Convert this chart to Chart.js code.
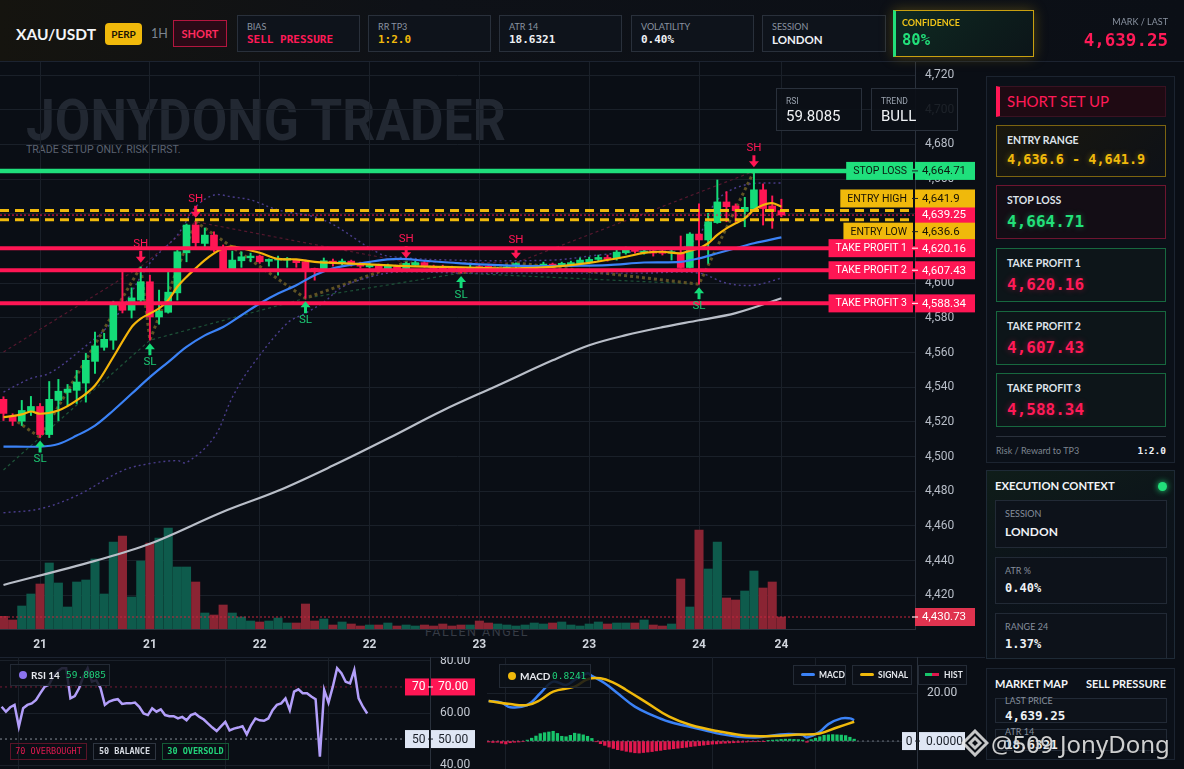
<!DOCTYPE html>
<html>
<head>
<meta charset="utf-8">
<title>XAU/USDT short setup</title>
<script src="https://cdn.jsdelivr.net/npm/chart.js@4.4.1/dist/chart.umd.min.js"></script>
<style>
  * { box-sizing: border-box; }
  body { margin:0; width:1184px; height:769px; overflow:hidden; background:#0a0e15; position:relative;
         font-family:'Lato','Noto Sans',sans-serif; color:#e4e8ee; }
  .a { position:absolute; }
  .mono { font-family:'DejaVu Sans Mono',monospace; font-weight:bold; }
  .narrow { font-family:'Liberation Sans Narrow','Roboto',sans-serif; }
  #hdr { left:0; top:0; width:1184px; height:62px; z-index:5;
         background:linear-gradient(90deg,#15140f 0%,#0e1117 35%,#0b0f16 100%); border-bottom:1px solid #1c2330; }
  .ibox { position:absolute; top:15px; height:37px; width:123px; border:1px solid #29303b; background:#0e131b; }
  .ibox .l { position:absolute; left:9px; top:5px; font-size:9px; color:#8a93a1; }
  .ibox .v { position:absolute; left:9px; top:17px; font-size:11px; }
  .rp { position:absolute; border:1px solid #1c2430; background:#0b1018; }
  .card { position:absolute; left:996px; width:170px; height:54px; }
  .card .l { position:absolute; left:10px; top:8px; font-size:10.5px; font-weight:bold; color:#dfe3ea; }
  .card .v { position:absolute; left:10px; top:26px; font-size:16px; }
  .ctx { position:absolute; left:995px; width:172px; border:1px solid #222a36; background:#0d121a; }
  .ctx .l { position:absolute; left:9px; top:7px; font-size:9px; color:#858e9c; }
  .ctx .v { position:absolute; left:9px; top:23px; font-size:12px; font-weight:bold; color:#eef1f5; }
  .badge { position:absolute; top:743px; height:17px; font-size:8.5px; line-height:15px; text-align:center; }
  .lg { position:absolute; top:665px; height:20px; border:1px solid #242b36; background:#0c1018; font-size:8.5px; font-weight:bold; color:#e6e9ee; line-height:18px; }
</style>
</head>
<body>

<!-- header -->
<div id="hdr" class="a">
  <div class="a" style="left:16px;top:25px;font-size:15.5px;font-weight:bold;color:#f2f4f7">XAU/USDT</div>
  <div class="a" style="left:105px;top:23px;width:37px;height:22px;border-radius:4px;background:#f0b90b;color:#1a1405;font-size:10px;font-weight:bold;text-align:center;line-height:22px">PERP</div>
  <div class="a" style="left:151px;top:26px;font-size:12.5px;color:#7d8590">1H</div>
  <div class="a" style="left:173px;top:20px;width:54px;height:27px;border:1px solid #b3163f;background:#2a0a16;color:#ff2a5f;font-size:11px;font-weight:bold;text-align:center;line-height:25px">SHORT</div>
  <div class="ibox" style="left:237px"><div class="l">BIAS</div><div class="v mono" style="color:#ff1a57">SELL PRESSURE</div></div>
  <div class="ibox" style="left:368px"><div class="l">RR TP3</div><div class="v mono" style="color:#f0b90b">1:2.0</div></div>
  <div class="ibox" style="left:499px"><div class="l">ATR 14</div><div class="v mono" style="color:#eef1f5">18.6321</div></div>
  <div class="ibox" style="left:631px"><div class="l">VOLATILITY</div><div class="v mono" style="color:#eef1f5">0.40%</div></div>
  <div class="ibox" style="left:762px;width:124px"><div class="l">SESSION</div><div class="v" style="font-weight:bold;color:#eef1f5;font-size:11.5px">LONDON</div></div>
  <div class="a" style="left:893px;top:10px;width:141px;height:47px;border:1px solid #c9a010;border-left:3px solid #22e07a;background:linear-gradient(135deg,#0f2a22 0%,#0d1d1c 60%,#0c1519 100%);box-shadow:0 0 12px rgba(201,160,16,0.35)">
    <div class="a" style="left:6px;top:6px;font-size:9px;font-weight:bold;color:#f0c419">CONFIDENCE</div>
    <div class="a mono" style="left:6px;top:20px;font-size:15.5px;color:#22e07a">80%</div>
  </div>
  <div class="a" style="right:16px;top:16px;font-size:9px;color:#8a93a1;text-align:right">MARK / LAST</div>
  <div class="a mono" style="right:16px;top:30px;font-size:17.5px;color:#ff1a57;text-align:right">4,639.25</div>
</div>

<!-- main chart background watermarks -->
<div class="a narrow" style="left:26px;top:86px;font-size:58px;font-weight:bold;color:#222832;transform:scaleX(0.89);transform-origin:0 0;white-space:nowrap">JONYDONG TRADER</div>
<div class="a narrow" style="left:26px;top:142px;font-size:11.5px;color:#5b6270;transform:scaleX(0.92);transform-origin:0 0;white-space:nowrap">TRADE SETUP ONLY. RISK FIRST.</div>
<div class="a narrow" style="left:425px;top:624px;font-size:12.5px;color:#363b45;letter-spacing:1.5px">FALLEN ANGEL</div>

<div class="a" style="left:0;top:62px;width:980px;height:595px"><canvas id="cMain"></canvas></div>

<!-- RSI / TREND boxes on chart -->
<div class="a" style="left:776px;top:88px;width:86px;height:43px;border:1px solid #29303b;background:rgba(11,15,22,0.9)">
  <div class="a narrow" style="left:9px;top:7px;font-size:8.5px;color:#9aa2ae">RSI</div>
  <div class="a narrow" style="left:9px;top:18px;font-size:15px;color:#f0f2f5">59.8085</div>
</div>
<div class="a" style="left:871px;top:88px;width:87px;height:43px;border:1px solid #29303b;background:rgba(11,15,22,0.9)">
  <div class="a narrow" style="left:9px;top:7px;font-size:8.5px;color:#9aa2ae">TREND</div>
  <div class="a narrow" style="left:9px;top:18px;font-size:15px;color:#f0f2f5">BULL</div>
</div>

<!-- bottom panels -->
<div class="a" style="left:0;top:657px;width:985px;height:1px;background:#1c2330"></div>
<div class="a" style="left:0;top:657px;width:487px;height:112px"><canvas id="cRsi"></canvas></div>
<div class="a" style="left:487px;top:657px;width:498px;height:112px"><canvas id="cMacd"></canvas></div>

<div class="a" style="left:10px;top:664px;width:100px;height:22px;border:1px solid #232a35;background:rgba(12,16,24,0.85)">
  <div class="a" style="left:8px;top:6px;width:8px;height:8px;border-radius:50%;background:#8b73f0"></div>
  <div class="a" style="left:20px;top:4px;font-size:10px;font-weight:bold;color:#e6e9ee">RSI 14</div>
  <div class="a mono" style="left:55px;top:4px;font-size:9.5px;color:#1fd27a;font-weight:normal">59.8085</div>
</div>
<div class="badge mono" style="left:10px;width:77px;border:1px solid #5a1428;color:#e0194f;font-weight:normal">70 OVERBOUGHT</div>
<div class="badge mono" style="left:93px;width:63px;border:1px solid #2e3540;color:#d6dae2">50 BALANCE</div>
<div class="badge mono" style="left:162px;width:67px;border:1px solid #145a36;color:#22d37a">30 OVERSOLD</div>

<div class="a" style="left:499px;top:664px;width:92px;height:24px;border:1px solid #232a35;background:rgba(12,16,24,0.85)">
  <div class="a" style="left:8px;top:7px;width:8px;height:8px;border-radius:50%;background:#f0b90b"></div>
  <div class="a" style="left:20px;top:5px;font-size:10px;font-weight:bold;color:#e6e9ee">MACD</div>
  <div class="a mono" style="left:52px;top:5px;font-size:9.5px;color:#1fd27a;font-weight:normal">0.8241</div>
</div>
<div class="lg" style="left:793px;width:53px"><span class="a" style="left:7px;top:7px;width:14px;height:3px;border-radius:2px;background:#3b82f6"></span><span class="a" style="left:25px;top:0">MACD</span></div>
<div class="lg" style="left:852px;width:60px"><span class="a" style="left:7px;top:7px;width:14px;height:3px;border-radius:2px;background:#f0b90b"></span><span class="a" style="left:25px;top:0">SIGNAL</span></div>
<div class="lg" style="left:918px;width:49px"><span class="a" style="left:6px;top:7px;width:7px;height:3px;background:#17c46a"></span><span class="a" style="left:13px;top:7px;width:7px;height:3px;background:#e0184e"></span><span class="a" style="left:25px;top:0">HIST</span></div>

<!-- right panel: short set up -->
<div class="rp" style="left:986px;top:76px;width:189px;height:387px"></div>
<div class="a" style="left:996px;top:86px;width:170px;height:31px;background:#1f0a13;border:1px solid #3a1222;border-left:4px solid #ff1654">
  <div class="a" style="left:7px;top:5px;font-size:15px;color:#ff1a57">SHORT SET UP</div>
</div>
<div class="card" style="top:125px;height:52px;border:1px solid #7c6410;background:linear-gradient(135deg,#1a180d,#0e1117)">
  <div class="l">ENTRY RANGE</div><div class="v mono" style="font-size:13.5px;top:25px;color:#f0b90b;text-shadow:0 0 6px rgba(240,185,11,0.4)">4,636.6 - 4,641.9</div>
</div>
<div class="card" style="top:185px;border:1px solid #6e1530;background:#130d15">
  <div class="l">STOP LOSS</div><div class="v mono" style="color:#22e07a;text-shadow:0 0 6px rgba(34,224,122,0.4)">4,664.71</div>
</div>
<div class="card" style="top:248px;border:1px solid #17683f;background:#0d1519">
  <div class="l">TAKE PROFIT 1</div><div class="v mono" style="color:#ff1a57;text-shadow:0 0 6px rgba(255,26,87,0.4)">4,620.16</div>
</div>
<div class="card" style="top:311px;border:1px solid #17683f;background:#0d1519">
  <div class="l">TAKE PROFIT 2</div><div class="v mono" style="color:#ff1a57;text-shadow:0 0 6px rgba(255,26,87,0.4)">4,607.43</div>
</div>
<div class="card" style="top:373px;border:1px solid #17683f;background:#0d1519">
  <div class="l">TAKE PROFIT 3</div><div class="v mono" style="color:#ff1a57;text-shadow:0 0 6px rgba(255,26,87,0.4)">4,588.34</div>
</div>
<div class="a" style="left:996px;top:436px;width:170px;height:1px;background:#2a313c"></div>
<div class="a" style="left:996px;top:445px;font-size:9px;color:#7d8590">Risk / Reward to TP3</div>
<div class="a mono" style="left:1126px;top:445px;width:40px;text-align:right;font-size:9.5px;color:#eef1f5">1:2.0</div>

<!-- execution context -->
<div class="rp" style="left:986px;top:470px;width:189px;height:189px;overflow:hidden;background:linear-gradient(160deg,#0f1d19 0%,#0c131a 45%,#0b1018 100%);border-color:#1e2a36">
</div>
<div class="a" style="left:995px;top:479px;font-size:11.3px;font-weight:bold;color:#f2f4f7">EXECUTION CONTEXT</div>
<div class="a" style="left:1158px;top:482px;width:9px;height:9px;border-radius:50%;background:#22e07a;box-shadow:0 0 6px #22e07a"></div>
<div class="ctx" style="top:500px;height:48px"><div class="l">SESSION</div><div class="v">LONDON</div></div>
<div class="ctx" style="top:557px;height:47px"><div class="l">ATR %</div><div class="v mono">0.40%</div></div>
<div class="ctx" style="top:613px;height:45px;border-bottom:none"><div class="l">RANGE 24</div><div class="v mono">1.37%</div></div>

<!-- market map -->
<div class="rp" style="left:986px;top:668px;width:189px;height:92px"></div>
<div class="a" style="left:995px;top:677px;font-size:11px;font-weight:bold;color:#f2f4f7">MARKET MAP</div>
<div class="a" style="left:1066px;top:677px;width:100px;text-align:right;font-size:11px;font-weight:bold;color:#f2f4f7">SELL PRESSURE</div>
<div class="ctx" style="top:698px;height:25px"><div class="l" style="top:-4px">LAST PRICE</div><div class="v mono" style="top:9px;font-size:12.5px">4,639.25</div></div>
<div class="ctx" style="top:729px;height:22px"><div class="l" style="top:-4px">ATR 14</div><div class="v mono" style="top:7px;font-size:12.5px">18.6321</div></div>

<!-- platform watermark -->
<svg class="a" style="left:961px;top:729px" width="28" height="28" viewBox="0 0 28 28">
  <g fill="none" stroke="#e8e8e8" stroke-width="3" opacity="0.85"><path d="M14 2 L26 14 L14 26 L2 14 Z"/><path d="M14 9 L19 14 L14 19 L9 14 Z"/></g>
</svg>
<div class="a" style="left:991px;top:727px;font-size:24px;color:rgba(235,235,235,0.88);font-family:'Noto Sans',sans-serif;text-shadow:0 0 2px rgba(0,0,0,0.6);white-space:nowrap">@509 JonyDong</div>

<script>
// ---------- data (1H candles, XAU/USDT) ----------
const candleOpen = [4533.0,4523.3,4520.4,4526.2,4528.9,4512.7,4532.4,4537.0,4538.2,4542.4,
  4554.9,4563.0,4567.1,4588.4,4584.4,4590.2,4600.8,4580.5,4583.2,4594.4,
  4617.5,4633.5,4622.9,4627.7,4620.1,4607.9,4612.9,4614.6,4615.6,4612.6,
  4613.3,4613.3,4613.3,4612.3,4608.5,4607.9,4612.7,4611.4,4612.7,4610.8,
  4609.4,4610.0,4607.9,4609.4,4608.4,4610.4,4611.8,4609.8,4609.4,4608.8,
  4608.8,4607.5,4609.2,4609.8,4607.1,4608.2,4610.4,4607.5,4607.5,4609.4,
  4611.0,4610.4,4610.4,4611.4,4612.3,4613.7,4614.8,4614.2,4617.5,4619.5,
  4617.6,4618.5,4618.1,4617.3,4617.1,4609.0,4628.3,4624.9,4634.9,4646.8,
  4644.5,4641.3,4643.0,4653.8,4644.5,4641.8];
const candleHigh = [4534.5,4524.7,4532.4,4534.7,4530.6,4543.3,4544.5,4541.6,4549.7,4559.5,
  4571.8,4571.1,4589.6,4606.5,4597.3,4609.4,4604.6,4596.0,4606.9,4619.1,
  4634.1,4635.4,4631.8,4629.6,4622.0,4618.5,4618.1,4617.3,4616.2,4614.0,
  4615.6,4614.8,4613.7,4613.3,4608.7,4614.5,4613.9,4613.9,4613.3,4612.1,
  4612.1,4611.0,4611.0,4610.4,4612.1,4612.7,4612.7,4610.4,4610.4,4609.8,
  4609.2,4610.4,4610.4,4610.4,4609.2,4610.4,4611.7,4609.8,4610.4,4612.1,
  4611.6,4612.1,4612.7,4614.5,4615.0,4616.2,4616.2,4619.1,4620.8,4620.2,
  4619.7,4619.7,4619.1,4619.1,4627.2,4629.1,4645.7,4640.3,4659.5,4652.8,
  4645.7,4649.5,4664.5,4657.2,4650.3,4648.4];
const candleLow = [4520.8,4517.9,4517.9,4523.7,4511.0,4511.0,4520.8,4529.5,4530.6,4531.4,
  4548.0,4561.3,4561.8,4582.8,4579.9,4589.2,4567.1,4576.3,4582.7,4590.2,
  4612.3,4621.0,4620.2,4618.1,4607.5,4607.0,4609.1,4612.3,4611.4,4609.8,
  4604.6,4609.1,4609.1,4591.3,4601.7,4606.9,4609.8,4610.4,4609.8,4608.7,
  4608.7,4606.9,4606.9,4606.4,4607.5,4609.8,4609.2,4608.1,4607.5,4606.9,
  4605.8,4606.9,4607.5,4607.5,4606.4,4607.5,4608.5,4606.9,4606.9,4608.7,
  4609.2,4609.8,4609.8,4611.0,4611.6,4612.7,4612.7,4613.3,4616.7,4617.3,
  4616.7,4615.6,4616.2,4613.3,4608.6,4608.7,4599.4,4611.4,4634.5,4635.4,
  4635.4,4632.5,4642.6,4633.5,4631.6,4638.3];
const candleClose = [4524.9,4520.4,4526.6,4528.9,4512.7,4533.0,4537.7,4538.9,4543.0,4555.5,
  4563.8,4567.6,4588.6,4584.4,4591.5,4600.8,4580.5,4583.8,4594.8,4618.1,
  4633.5,4623.3,4627.7,4619.1,4607.9,4613.3,4615.2,4615.6,4612.3,4613.7,
  4613.7,4614.3,4611.8,4607.5,4607.1,4612.9,4611.4,4612.7,4610.8,4609.8,
  4610.8,4607.5,4610.0,4607.5,4611.4,4611.8,4609.8,4608.5,4608.1,4607.5,
  4607.5,4609.0,4608.7,4608.5,4608.5,4609.4,4611.0,4609.4,4609.1,4611.0,
  4610.0,4611.4,4611.8,4613.3,4613.7,4614.8,4613.7,4617.9,4619.5,4618.3,
  4618.5,4617.3,4617.2,4617.9,4609.0,4628.3,4624.9,4635.4,4646.8,4644.1,
  4641.8,4643.7,4653.8,4643.0,4641.3,4639.25];
const volume = [1270,900,2300,3500,4500,6600,4600,2200,4700,4900,
  7000,3500,8700,9300,3200,6800,8600,9100,10100,6200,
  6200,4700,1600,1400,2400,1600,1200,800,700,800,
  1100,600,600,2500,800,1000,400,700,500,300,
  400,400,600,300,400,300,400,300,500,300,
  400,400,800,600,500,400,300,400,600,500,
  600,700,400,300,500,700,500,600,600,600,
  900,400,300,500,5000,2200,9900,6000,8700,3100,
  2900,3800,5800,4100,4700,1200];

// x tick labels (day of month)
const xTickIdx = [4,16,28,40,52,64,76,85];
const xTickText = ['21','21','22','22','23','23','24','24'];
const priceTicks = [4420,4440,4460,4480,4500,4520,4540,4560,4580,4600,4620,4640,4660,4680,4700,4720];

// moving averages / bands (index -> price)
const emaFastIdx = [0,2,3,4,6,8,10,12,14,15,16,17,18,19,20,21,22,23,24,25,26,28,30,32,34,36,40,44,48,52,56,60,64,68,70,72,74,75,76,77,78,79,80,81,82,83,84,85];
const emaFastVal = [4522.7,4524.3,4526,4524.7,4526.6,4532.4,4541,4557.4,4574.7,4579.6,4582.5,4585.4,4590.2,4597.9,4603.6,4608.5,4613.3,4617.2,4620.1,4621,4620.1,4617.5,4614,4613.7,4612.3,4611.7,4610.8,4609.8,4609.4,4608.8,4608.5,4609.4,4611.7,4615.2,4617.5,4618.1,4617.2,4618.7,4620.1,4623,4627.8,4631.6,4634.5,4637.4,4642.2,4645.1,4646.1,4644.1];
const emaMidIdx = [0,4,6,8,10,12,14,16,18,20,22,24,26,28,30,32,34,36,39,42,44,46,50,54,58,62,66,70,74,76,78,80,82,85];
const emaMidVal = [4505.8,4505.8,4507.3,4512.1,4517.9,4526.6,4536.2,4545.8,4554.5,4563.2,4569.9,4574.7,4581.5,4588.3,4594,4598.8,4604.6,4608.5,4611.4,4613.7,4613.9,4612.9,4611.4,4610.4,4609.8,4610,4610.4,4611.9,4612.3,4614.3,4617.2,4620.1,4623,4626.4];
const smaLongIdx = [0,10,16,24,30,36,42,48,54,60,64,68,72,76,80,85];
const smaLongVal = [4426,4439.9,4449.7,4468.2,4480.3,4494.8,4510.4,4526.6,4541,4555.5,4564.2,4570,4574.6,4578.6,4582.7,4591.3];
const bandUpIdx = [0,3,5,8,12,16,19,21,23,25,27,30,35,41,43,49,60,65,71,74,76,78,81,85];
const bandUpVal = [4537.2,4545.1,4548,4559.5,4578.6,4611.6,4627.7,4643.9,4650.8,4649.7,4648,4642.2,4636.4,4617.3,4615,4613.3,4613.3,4616.2,4619.1,4620.2,4627.7,4648,4656.6,4657.8];
const bandLowIdx = [0,4,8,13,16,19,20,23,25,27,31,33,35,37,40,43,50,60,70,76,79,82,85];
const bandLowVal = [4467.6,4469.9,4477.5,4491.9,4496,4497.7,4496.5,4511,4534.1,4551.4,4576.9,4582.7,4589,4597.7,4603.5,4606.4,4605.8,4605.8,4605.8,4605.8,4600,4598.8,4602.9];
const zigzagIdx = [1,4,15,16,21,33,44,50,56,76,82];
const zigzagVal = [4522,4511,4609.4,4567.1,4635.4,4591.3,4612.1,4605.8,4611.7,4599.4,4664.5];
const supportIdx = [0,4,16,33,50,76];
const supportVal = [4492.3,4511,4567.1,4591.3,4605.8,4599.4];
const resistIdx = [0,15,21,44,56,82];
const resistVal = [4560.3,4609.4,4635.4,4612.1,4611.7,4664.5];

// swing markers
const swingHighIdx = [15,21,44,56,82];
const swingLowIdx = [4,16,33,50,76];

// trade levels
const levelNames = ['STOP LOSS','ENTRY HIGH','ENTRY LOW','TAKE PROFIT 1','TAKE PROFIT 2','TAKE PROFIT 3'];
const levelPrices = [4664.71,4641.9,4636.6,4620.16,4607.43,4588.34];
const levelText = ['4,664.71','4,641.9','4,636.6','4,620.16','4,607.43','4,588.34'];
const lastPrice = 4639.25;
const lastPriceText = '4,639.25';
const volTagText = '4,430.73';

// RSI 14
const rsiVal = [62.4,60.5,62.2,63.1,54.7,61.8,63.1,63.7,65.0,67.6,
  70.1,70.8,74.0,75.9,77.2,77.2,65.6,66.5,69.5,74.0,
  77.2,72.0,72.6,69.5,63.1,64.4,65.0,65.3,63.5,63.7,
  63.7,64.0,62.4,59.8,59.2,61.8,60.5,61.4,59.2,58.8,
  58.8,57.9,58.5,57.2,59.2,59.8,58.5,57.5,55.9,54.4,
  53.1,54.9,56.6,53.3,54.0,54.4,54.9,51.8,55.3,57.9,
  57.2,57.0,57.9,61.1,63.1,63.7,65.6,61.1,68.2,69.1,
  67.6,67.6,66.3,65.3,43.2,68.9,64.0,70.1,77.2,75.3,
  72.0,71.4,76.5,65.6,62.4,59.8];
const rsiTicks = [40,60,80];
const rsiGridIdx = [4,52,76];

// MACD
const macdIdx = [0,3,5,9,12,15,18,20,23,24,27,30,34,38,42,46,50,54,58,62,65,69,73,74,77,79,82,84,85];
const macdVal = [16.8,16.1,14.2,15.1,20.0,24.9,23.5,25.6,28.4,27.3,24.2,20.0,14.4,10.9,8.1,6.3,4.6,2.9,1.8,1.5,2.1,2.9,2.5,1.5,3.9,7.1,9.5,9.5,8.8];
const signalIdx = [0,5,9,12,15,20,23,26,29,32,37,42,47,54,60,66,72,77,81,85];
const signalVal = [16.8,15.5,15.1,17.2,20.7,22.8,25.9,26.3,24.5,21.4,15.8,10.2,6.7,3.9,2.2,2.1,2.7,3.2,5.7,8.1];
const histVal = [-0.4,-0.6,-0.5,-0.9,-1.2,-0.7,-0.5,-0.4,-0.2,0.4,
  1.2,2.1,3.1,3.5,3.8,4.1,3.2,2.0,1.8,2.4,
  3.3,3.0,2.6,2.0,1.1,-0.3,-1.1,-1.8,-2.5,-3.1,
  -3.6,-3.9,-4.3,-4.6,-4.9,-5.0,-4.8,-4.6,-4.4,-4.1,
  -3.9,-3.6,-3.4,-3.2,-3.0,-2.8,-2.6,-2.3,-2.1,-1.9,
  -1.7,-1.5,-1.3,-1.2,-1.0,-0.9,-0.8,-0.7,-0.6,-0.5,
  -0.4,-0.3,-0.3,-0.2,-0.1,0.3,0.4,0.5,0.7,0.8,
  0.8,0.7,0.6,0.4,-0.5,0.6,1.2,1.8,2.4,2.6,
  2.7,2.6,2.5,2.3,1.6,0.8];
const macdTicks = [0,20];
const macdGridIdx = [4,28,52,76];

// ---------- styling ----------
const NARROW = "'Liberation Sans Narrow','Roboto',sans-serif";
const UP = '#14dc78', DOWN = '#ff1654';
const GRID = '#1a2029';
Chart.defaults.font.family = NARROW;
Chart.defaults.color = '#b8bec8';
Chart.defaults.animation = false;

const pts = (idx, val) => idx.map((x, k) => ({ x, y: val[k] }));
const candleIdx = candleOpen.map((_, i) => i);
const candleCol = candleIdx.map(i => candleClose[i] >= candleOpen[i] ? UP : DOWN);
const volCol = candleIdx.map(i => candleClose[i] >= candleOpen[i] ? '#0e5b4c' : '#8a2433');

const xDomain = { type: 'linear', min: -0.38, max: 99.6, offset: false };
// keep the plot area flush with the canvas edges (no room reserved for end labels)
const flushY = w => s => { s.width = w; s.paddingTop = 0; s.paddingBottom = 0; };
const flushX = h => s => { s.height = h; s.paddingLeft = 0; s.paddingRight = 0; };

function hline(ctx, x0, x1, y, color, width, dash) {
  ctx.save();
  ctx.strokeStyle = color; ctx.lineWidth = width; ctx.setLineDash(dash || []);
  ctx.beginPath(); ctx.moveTo(x0, y); ctx.lineTo(x1, y); ctx.stroke();
  ctx.restore();
}
function tagBox(ctx, x, yc, w, h, bg, fg, text, font) {
  ctx.fillStyle = bg; ctx.fillRect(x, yc - h / 2, w, h);
  ctx.fillStyle = fg; ctx.font = font; ctx.textBaseline = 'middle'; ctx.textAlign = 'left';
  ctx.fillText(text, x + 7, yc + 0.5);
}
function pairTag(ctx, right, yc, label, value, bg, fg, valW, font) {
  ctx.font = font;
  const lw = ctx.measureText(label).width + 13;
  tagBox(ctx, right - 2 - lw, yc, lw, 18, bg, fg, label, font);
  tagBox(ctx, right, yc, valW, 18, bg, fg, value, font);
  hline(ctx, right - 3, right + 3, yc, fg === '#ffffff' ? '#ffffff' : '#1a1f28', 1);
}

// ---------- main chart ----------
const levelColor = ['#1fe07c','#f0b90b','#f0b90b',DOWN,DOWN,DOWN];
const levelWidth = [4.5,3,3,4,4,4];
const levelDash = [[],[9,6],[9,6],[],[],[]];
const levelShift = [0,-12,12,0,0,0];
const levelFg = ['#0b1a10','#1a1405','#1a1405','#ffffff','#ffffff','#ffffff'];

const mainOverlay = {
  id: 'mainOverlay',
  afterDatasetsDraw(chart) {
    const { ctx, chartArea: a, scales: { x, y, yv } } = chart;
    ctx.save();
    const vy = yv.getPixelForValue(volume[volume.length - 1]);
    hline(ctx, a.left, a.right, vy, '#c8243f', 1, [2, 2]);
    const py = y.getPixelForValue(lastPrice);
    hline(ctx, a.left, a.right, py, DOWN, 1, [2, 2]);
    levelPrices.forEach((p, k) => hline(ctx, a.left, a.right, y.getPixelForValue(p), levelColor[k], levelWidth[k], levelDash[k]));

    // swing markers
    ctx.font = '11.5px ' + NARROW; ctx.textAlign = 'center'; ctx.textBaseline = 'middle';
    swingHighIdx.forEach(i => {
      const px = x.getPixelForValue(i), hy = y.getPixelForValue(candleHigh[i]);
      ctx.fillStyle = DOWN;
      ctx.fillRect(px - 1.5, hy - 16, 3, 7);
      ctx.beginPath(); ctx.moveTo(px - 5, hy - 10); ctx.lineTo(px + 5, hy - 10); ctx.lineTo(px, hy - 4); ctx.fill();
      ctx.fillText('SH', px, hy - 23);
    });
    swingLowIdx.forEach(i => {
      const px = x.getPixelForValue(i), ly = y.getPixelForValue(candleLow[i]);
      ctx.fillStyle = UP;
      ctx.beginPath(); ctx.moveTo(px - 5, ly + 9); ctx.lineTo(px + 5, ly + 9); ctx.lineTo(px, ly + 3); ctx.fill();
      ctx.fillRect(px - 1.5, ly + 8, 3, 7);
      ctx.fillStyle = '#1cc873';
      ctx.fillText('SL', px, ly + 22);
    });

    // right-hand tags
    const font = '10.5px ' + NARROW;
    const vfont = '11.5px ' + NARROW;
    tagBox(ctx, a.right, vy, 60, 18, '#e0334f', '#ffffff', volTagText, vfont);
    hline(ctx, a.right - 3, a.right + 3, vy, '#ffffff', 1);
    tagBox(ctx, a.right, py, 60, 18, DOWN, '#ffffff', lastPriceText, vfont);
    levelPrices.forEach((p, k) => {
      const yc = y.getPixelForValue(p) + levelShift[k];
      ctx.font = font;
      const lw = ctx.measureText(levelNames[k]).width + 13;
      tagBox(ctx, a.right - 2 - lw, yc, lw, 18, levelColor[k], levelFg[k], levelNames[k], font);
      tagBox(ctx, a.right, yc, 60, 18, levelColor[k], levelFg[k], levelText[k], vfont);
      hline(ctx, a.right - 3, a.right + 3, yc, levelFg[k] === '#ffffff' ? '#ffffff' : '#1a1f28', 1);
    });
    ctx.restore();
  }
};

const lineDs = (label, idx, val, color, width, dash, tension, order) => ({
  type: 'line', label, data: pts(idx, val), borderColor: color, borderWidth: width,
  borderDash: dash, pointRadius: 0, tension, order, yAxisID: 'y'
});

new Chart(document.getElementById('cMain'), {
  type: 'bar',
  data: {
    datasets: [
      lineDs('EMA fast', emaFastIdx, emaFastVal, '#f5b50a', 2.2, [], 0.35, 0),
      lineDs('EMA mid', emaMidIdx, emaMidVal, '#3b82f6', 2.2, [], 0.35, 1),
      lineDs('SMA long', smaLongIdx, smaLongVal, '#b9bec8', 2.2, [], 0.35, 2),
      lineDs('BB upper', bandUpIdx, bandUpVal, '#4a3d8c', 1.4, [2, 3], 0.35, 7),
      lineDs('BB lower', bandLowIdx, bandLowVal, '#4a3d8c', 1.4, [2, 3], 0.35, 7),
      lineDs('zigzag', zigzagIdx, zigzagVal, '#5f5224', 3, [3, 3], 0, 8),
      lineDs('support', supportIdx, supportVal, '#1d5238', 1.2, [3, 3], 0, 8),
      lineDs('resist', resistIdx, resistVal, '#55182e', 1.2, [3, 3], 0, 8),
      { type: 'bar', label: 'body', data: candleIdx.map(i => ({ x: i, y: [candleOpen[i], candleClose[i]] })),
        backgroundColor: candleCol, barThickness: 7, minBarLength: 1.5, grouped: false, order: 4, yAxisID: 'y' },
      { type: 'bar', label: 'wick', data: candleIdx.map(i => ({ x: i, y: [candleLow[i], candleHigh[i]] })),
        backgroundColor: candleCol, barThickness: 1.3, grouped: false, order: 5, yAxisID: 'y' },
      { type: 'bar', label: 'volume', data: candleIdx.map(i => ({ x: i, y: volume[i] })),
        backgroundColor: volCol, barThickness: 8.4, grouped: false, order: 10, yAxisID: 'yv' }
    ]
  },
  options: {
    responsive: true, maintainAspectRatio: false,
    layout: { padding: 0 },
    plugins: { legend: { display: false }, tooltip: { enabled: false } },
    scales: {
      x: Object.assign({}, xDomain, {
        afterBuildTicks: ax => { ax.ticks = xTickIdx.map(v => ({ value: v })); },
        afterFit: flushX(28),
        ticks: { callback: (v, i) => xTickText[i], autoSkip: false, maxRotation: 0, padding: 9,
                 color: '#d0d4dc', font: { size: 12, weight: 'bold', family: NARROW } },
        grid: { color: GRID, drawTicks: false, offset: false },
        border: { color: '#2a313c' }
      }),
      y: {
        position: 'right', min: 4400.6, max: 4727.5,
        afterBuildTicks: ax => { ax.ticks = priceTicks.map(v => ({ value: v })); },
        afterFit: flushY(65),
        ticks: { padding: 10, color: '#b8bec8', font: { size: 12, family: NARROW },
                 callback: v => v.toLocaleString('en-US') },
        grid: { color: GRID, drawTicks: false },
        border: { color: '#2a313c' }
      },
      yv: { display: false, min: 0, max: 56700 }
    }
  },
  plugins: [mainOverlay]
});

// ---------- RSI ----------
const rsiOverlay = {
  id: 'rsiOverlay',
  beforeDatasetsDraw(chart) {
    const { ctx, chartArea: a, scales: { y } } = chart;
    hline(ctx, a.left, a.right, y.getPixelForValue(70), '#7a1a36', 1, [2, 3]);
    hline(ctx, a.left, a.right, y.getPixelForValue(50), '#8a909a', 1, [2, 3]);
  },
  afterDatasetsDraw(chart) {
    const { ctx, chartArea: a, scales: { y } } = chart;
    const font = '12px ' + NARROW;
    tagBox(ctx, a.right - 25, y.getPixelForValue(70), 24, 17, DOWN, '#ffffff', '70', font);
    tagBox(ctx, a.right + 1, y.getPixelForValue(70), 44, 17, DOWN, '#ffffff', '70.00', font);
    hline(ctx, a.right - 2, a.right + 3, y.getPixelForValue(70), '#ffffff', 1);
    tagBox(ctx, a.right - 25, y.getPixelForValue(50), 24, 18, '#dfe6f4', '#1a1f28', '50', font);
    tagBox(ctx, a.right + 1, y.getPixelForValue(50), 44, 18, '#dfe6f4', '#1a1f28', '50.00', font);
    hline(ctx, a.right - 2, a.right + 3, y.getPixelForValue(50), '#1a1f28', 1);
  }
};

new Chart(document.getElementById('cRsi'), {
  type: 'line',
  data: { datasets: [{ data: pts(candleIdx, rsiVal), borderColor: '#b39ffa', borderWidth: 2.5, pointRadius: 0, tension: 0 }] },
  options: {
    responsive: true, maintainAspectRatio: false, layout: { padding: 0 },
    plugins: { legend: { display: false }, tooltip: { enabled: false } },
    scales: {
      x: Object.assign({}, xDomain, {
        afterBuildTicks: ax => { ax.ticks = rsiGridIdx.map(v => ({ value: v })); },
        afterFit: flushX(0),
        ticks: { display: false }, grid: { color: GRID, drawTicks: false }, border: { display: false }
      }),
      y: {
        position: 'right', min: 38.5, max: 81.5,
        afterBuildTicks: ax => { ax.ticks = rsiTicks.map(v => ({ value: v })); },
        afterFit: flushY(57),
        ticks: { padding: 10, color: '#c4c9d2', font: { size: 12, family: NARROW }, callback: v => v.toFixed(2) },
        grid: { color: GRID, drawTicks: false }, border: { color: '#2a313c' }
      }
    }
  },
  plugins: [rsiOverlay]
});

// ---------- MACD ----------
const macdOverlay = {
  id: 'macdOverlay',
  beforeDatasetsDraw(chart) {
    const { ctx, chartArea: a, scales: { y } } = chart;
    hline(ctx, a.left, a.right, y.getPixelForValue(0), '#6c727c', 1, [2, 3]);
  },
  afterDatasetsDraw(chart) {
    const { ctx, chartArea: a, scales: { y } } = chart;
    const font = '12px ' + NARROW, yc = y.getPixelForValue(0);
    ctx.fillStyle = '#dfe6f4'; ctx.fillRect(a.right - 15, yc - 9, 14, 18);
    ctx.fillStyle = '#1a1f28'; ctx.font = font; ctx.textBaseline = 'middle'; ctx.textAlign = 'center';
    ctx.fillText('0', a.right - 8, yc + 0.5); ctx.textAlign = 'left';
    tagBox(ctx, a.right + 2, yc, 46, 18, '#dfe6f4', '#1a1f28', '0.0000', font);
    hline(ctx, a.right - 2, a.right + 3, yc, '#1a1f28', 1);
  }
};

new Chart(document.getElementById('cMacd'), {
  type: 'bar',
  data: {
    datasets: [
      { type: 'line', data: pts(macdIdx, macdVal), borderColor: '#3b82f6', borderWidth: 2.5, pointRadius: 0, tension: 0.4, order: 1 },
      { type: 'line', data: pts(signalIdx, signalVal), borderColor: '#f0b90b', borderWidth: 2.5, pointRadius: 0, tension: 0.4, order: 0 },
      { type: 'bar', data: candleIdx.map(i => ({ x: i, y: histVal[i] })), barThickness: 2.6, grouped: false, order: 2,
        backgroundColor: histVal.map(v => v >= 0 ? '#17c46a' : '#e0184e') }
    ]
  },
  options: {
    responsive: true, maintainAspectRatio: false, layout: { padding: 0 },
    plugins: { legend: { display: false }, tooltip: { enabled: false } },
    scales: {
      x: Object.assign({}, xDomain, {
        afterBuildTicks: ax => { ax.ticks = macdGridIdx.map(v => ({ value: v })); },
        afterFit: flushX(0),
        ticks: { display: false }, grid: { color: GRID, drawTicks: false, offset: false }, border: { display: false }
      }),
      y: {
        position: 'right', min: -11.7, max: 35.2,
        afterBuildTicks: ax => { ax.ticks = macdTicks.map(v => ({ value: v })); },
        afterFit: flushY(68),
        ticks: { padding: 10, color: '#c4c9d2', font: { size: 12, family: NARROW }, callback: v => v.toFixed(2) },
        grid: { color: GRID, drawTicks: false }, border: { color: '#2a313c' }
      }
    }
  },
  plugins: [macdOverlay]
});
</script>
</body>
</html>
